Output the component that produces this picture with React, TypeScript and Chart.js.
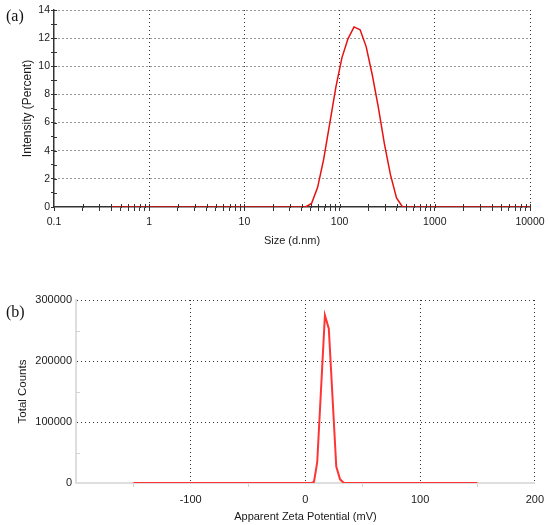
import React, { useEffect, useRef } from 'react';
import { Chart, registerables } from 'chart.js';

Chart.register(...registerables);

// ---- Panel (a): size distribution by intensity ----
const SIZE_NM = [0.4, 43.82, 50.75, 58.77, 68.06, 78.82, 91.28, 105.7, 122.4, 141.8, 164.2, 190.1, 220.2, 255.0, 295.3, 342.0, 396.1, 458.7, 10000];
const INTENSITY = [0, 0, 0.25, 1.4, 3.4, 5.95, 8.5, 10.6, 11.95, 12.8, 12.6, 11.4, 9.4, 7.1, 4.5, 2.3, 0.65, 0, 0];
const SIZE_DECADES = [0.1, 1, 10, 100, 1000, 10000];
const SIZE_DECADE_LABELS = ['0.1', '1', '10', '100', '1000', '10000'];
const INTENSITY_LABELED = [0, 2, 4, 6, 8, 10, 12, 14];

// ---- Panel (b): zeta potential distribution ----
const ZETA_MV = [-150, 5.5, 7.5, 10.3, 17.0, 20.4, 26.9, 30.2, 33.5, 150];
const ZETA_COUNTS = [0, 0, 2000, 34000, 275000, 253000, 27000, 6000, 0, 0];
const ZETA_LABELED = [-100, 0, 100, 200];
const COUNTS_LABELED = [0, 100000, 200000, 300000];

const SANS = "'Liberation Sans', Arial, sans-serif";
const CLEAR = 'rgba(0,0,0,0)';
const DARK = '#333333';
const LIGHT = '#d4d4d4';

const decadeIndex = (v: number) =>
  SIZE_DECADES.findIndex((d) => Math.abs(d - v) < d * 1e-6);

// small tick marks drawn on the inner side of the axes, placed by the chart's scales
const innerTicksA = {
  id: 'innerTicksA',
  afterDatasetsDraw(chart: any) {
    const { ctx, chartArea, scales } = chart;
    const x = scales.x;
    const y = scales.y;
    ctx.save();
    ctx.strokeStyle = DARK;
    ctx.lineWidth = 1;
    ctx.beginPath();
    x.ticks.forEach((t: any, i: number) => {
      if (i === 0) return;
      const px = Math.round(x.getPixelForValue(t.value)) + 0.5;
      ctx.moveTo(px, chartArea.bottom + 1);
      ctx.lineTo(px, chartArea.bottom - 3);
    });
    y.ticks.forEach((t: any, i: number) => {
      if (i === 0) return;
      const py = Math.round(y.getPixelForValue(t.value)) + 0.5;
      ctx.moveTo(chartArea.left, py);
      ctx.lineTo(chartArea.left + 3, py);
    });
    ctx.stroke();
    ctx.restore();
  },
};

const innerTicksB = {
  id: 'innerTicksB',
  beforeDatasetsDraw(chart: any) {
    const { ctx, chartArea, scales } = chart;
    const y = scales.y;
    ctx.save();
    ctx.strokeStyle = LIGHT;
    ctx.lineWidth = 1;
    ctx.beginPath();
    y.ticks.forEach((t: any) => {
      if (COUNTS_LABELED.includes(t.value)) return;
      const py = Math.round(y.getPixelForValue(t.value)) + 0.5;
      ctx.moveTo(chartArea.left, py);
      ctx.lineTo(chartArea.left + 4, py);
    });
    ctx.stroke();
    ctx.restore();
  },
};

export default function App() {
  const refA = useRef<HTMLCanvasElement | null>(null);
  const refB = useRef<HTMLCanvasElement | null>(null);

  useEffect(() => {
    Chart.defaults.font.family = SANS;
    const chartA = new Chart(refA.current!, {
      type: 'line',
      data: {
        datasets: [
          {
            data: SIZE_NM.map((x, i) => ({ x, y: INTENSITY[i] })),
            borderColor: '#e81010',
            borderWidth: 1.5,
            pointRadius: 0,
            tension: 0,
            fill: false,
          },
        ],
      },
      options: {
        responsive: false,
        animation: false,
        plugins: { legend: { display: false }, tooltip: { enabled: false } },
        layout: { padding: { left: 0, top: 10, right: 20, bottom: 0 } },
        scales: {
          x: {
            type: 'logarithmic',
            min: 0.1,
            max: 10000,
            afterBuildTicks: (scale: any) => {
              const ticks: any[] = [];
              SIZE_DECADES.forEach((d, i) => {
                if (i === SIZE_DECADES.length - 1) {
                  ticks.push({ value: d });
                  return;
                }
                for (let m = 1; m <= 9; m++) ticks.push({ value: +(d * m).toPrecision(6) });
              });
              scale.ticks = ticks;
            },
            afterFit: (scale: any) => {
              scale.height = 55;
            },
            ticks: {
              autoSkip: false,
              maxRotation: 0,
              padding: 5,
              color: '#1a1a1a',
              font: { size: 10.5 },
              callback: (v: any) => {
                const k = decadeIndex(Number(v));
                return k >= 0 ? SIZE_DECADE_LABELS[k] : '';
              },
            },
            grid: {
              color: (ctx: any) => {
                const k = ctx.tick ? decadeIndex(ctx.tick.value) : -1;
                return k > 0 ? DARK : CLEAR;
              },
              lineWidth: 1,
              tickColor: DARK,
              tickLength: 4,
            },
            border: { display: true, color: DARK, width: 1.5, dash: [1, 3] },
            title: {
              display: true,
              text: 'Size (d.nm)',
              color: '#1a1a1a',
              font: { size: 11 },
              padding: { top: 14.4, bottom: 14.4 },
            },
          },
          y: {
            type: 'linear',
            min: 0,
            max: 14,
            afterFit: (scale: any) => {
              scale.width = 54;
            },
            ticks: {
              stepSize: 1,
              autoSkip: false,
              padding: 1,
              color: '#1a1a1a',
              font: { size: 10.5 },
              callback: (v: any) => (INTENSITY_LABELED.includes(Number(v)) ? String(v) : ''),
            },
            grid: {
              color: (ctx: any) =>
                ctx.tick && ctx.tick.value > 0 && INTENSITY_LABELED.includes(ctx.tick.value) ? DARK : CLEAR,
              lineWidth: 1,
              tickColor: DARK,
              tickLength: 3,
            },
            border: { display: true, color: DARK, width: 1.5, dash: [1, 3] },
            title: {
              display: true,
              text: 'Intensity (Percent)',
              color: '#1a1a1a',
              font: { size: 12 },
              padding: { top: 20.8, bottom: 20.8 },
            },
          },
        },
      },
      plugins: [innerTicksA],
    } as any);

    const chartB = new Chart(refB.current!, {
      type: 'line',
      data: {
        datasets: [
          {
            data: ZETA_MV.map((x, i) => ({ x, y: ZETA_COUNTS[i] })),
            borderColor: '#ff3434',
            borderWidth: 2,
            pointRadius: 0,
            tension: 0,
            fill: false,
          },
        ],
      },
      options: {
        responsive: false,
        animation: false,
        plugins: { legend: { display: false }, tooltip: { enabled: false } },
        layout: { padding: { left: 0, top: 38, right: 12, bottom: 0 } },
        scales: {
          x: {
            type: 'linear',
            min: -200,
            max: 200,
            afterFit: (scale: any) => {
              scale.height = 42;
            },
            ticks: {
              stepSize: 50,
              autoSkip: false,
              maxRotation: 0,
              padding: 6,
              color: '#1a1a1a',
              font: { size: 11 },
              callback: (v: any) => (ZETA_LABELED.includes(Number(v)) ? String(v) : ''),
            },
            grid: {
              color: (ctx: any) => (ctx.tick && ZETA_LABELED.includes(ctx.tick.value) ? DARK : CLEAR),
              lineWidth: 1,
              tickColor: (ctx: any) =>
                ctx.tick && ctx.tick.value % 100 === 0 ? CLEAR : LIGHT,
              tickLength: 4,
            },
            border: { display: true, color: '#dedede', width: 2, dash: [1, 3] },
            title: {
              display: true,
              text: 'Apparent Zeta Potential (mV)',
              color: '#1a1a1a',
              font: { size: 11 },
              padding: { top: 1.4, bottom: 1.4 },
            },
          },
          y: {
            type: 'linear',
            min: 0,
            max: 300000,
            afterFit: (scale: any) => {
              scale.width = 76;
            },
            ticks: {
              stepSize: 50000,
              autoSkip: false,
              padding: 1,
              color: '#1a1a1a',
              font: { size: 11 },
              callback: (v: any) => (COUNTS_LABELED.includes(Number(v)) ? String(v) : ''),
            },
            grid: {
              color: (ctx: any) =>
                ctx.tick && ctx.tick.value > 0 && COUNTS_LABELED.includes(ctx.tick.value) ? DARK : CLEAR,
              lineWidth: 1,
              tickColor: CLEAR,
              tickLength: 3,
            },
            border: { display: true, color: '#dedede', width: 2, dash: [1, 3] },
            title: {
              display: true,
              text: 'Total Counts',
              color: '#1a1a1a',
              font: { size: 11.5 },
              padding: { top: 16.1, bottom: 16.1 },
            },
          },
        },
      },
      plugins: [innerTicksB],
    } as any);

    return () => {
      chartA.destroy();
      chartB.destroy();
    };
  }, []);

  const tag: React.CSSProperties = {
    position: 'absolute',
    left: 6,
    fontFamily: "'Liberation Serif', 'Times New Roman', serif",
    fontSize: 16,
    lineHeight: '16px',
    color: '#111',
  };

  return (
    <div style={{ position: 'absolute', left: 0, top: 0, width: 550, height: 525, background: '#fff', overflow: 'hidden' }}>
      <canvas ref={refA} width={550} height={262} style={{ position: 'absolute', left: 0, top: 0, width: 550, height: 262 }} />
      <canvas ref={refB} width={550} height={263} style={{ position: 'absolute', left: 0, top: 262, width: 550, height: 263 }} />
      <div style={{ ...tag, top: 8 }}>(a)</div>
      <div style={{ ...tag, top: 304 }}>(b)</div>
    </div>
  );
}
